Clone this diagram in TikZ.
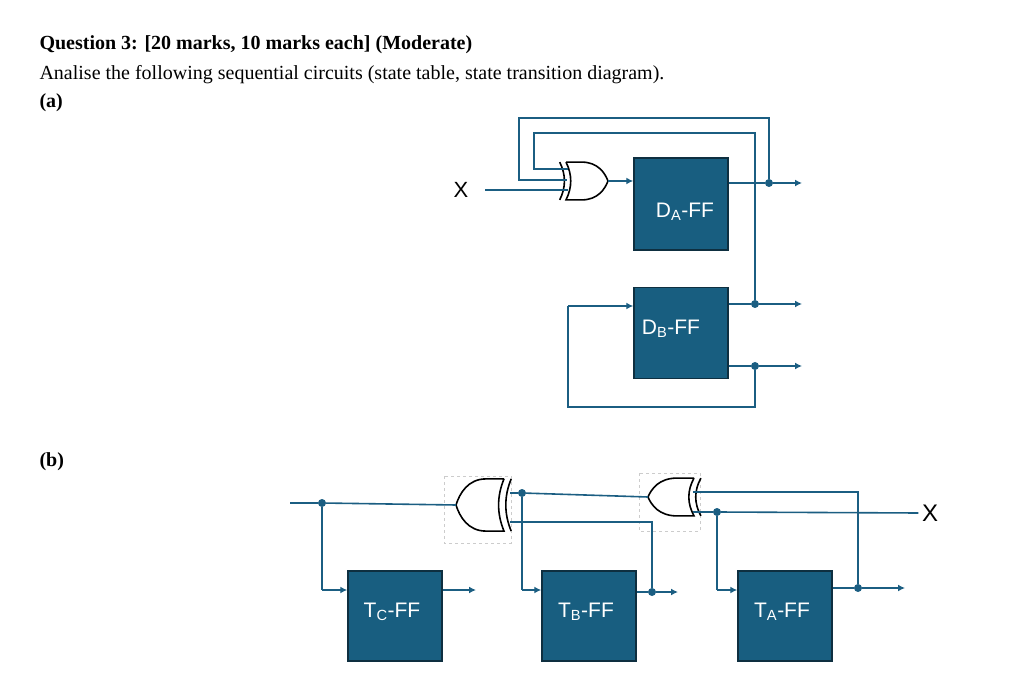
\documentclass[tikz,border=0pt]{standalone}
\usepackage{fontspec}
\setmainfont{Liberation Serif}
\newfontfamily\sansf{Liberation Sans}
\usetikzlibrary{arrows.meta}
\definecolor{wire}{HTML}{1B5E82}
\definecolor{boxf}{HTML}{185E80}
\definecolor{boxd}{HTML}{0E2F40}
\tikzset{
 w/.style={draw=wire,line width=1.6pt},
 wa/.style={w,-{Latex[length=7pt,width=7pt]}},
 ff/.style={draw=boxd,line width=1.5pt,fill=boxf,text=white,font=\sansf\fontsize{21}{21}\selectfont,minimum width=94pt,minimum height=90pt,inner sep=0pt},
 dotn/.style={circle,fill=wire,inner sep=0pt,minimum size=8pt},
 pics/xorg/.style={code={
   \draw[black,line width=1.6pt] (-40,-18) -- (-25,-18) .. controls (-10,-18) and (-3,-8) .. (0,0) .. controls (-3,8) and (-10,18) .. (-25,18) -- (-40,18) .. controls (-34,6) and (-34,-6) .. (-40,-18);
   \draw[black,line width=1.6pt] (-46,-18) .. controls (-40,-6) and (-40,6) .. (-46,18);
 }}
}
\begin{document}
\begin{tikzpicture}[x=1pt,y=-1pt]
\useasboundingbox (0,0) rectangle (1036,684);
\node[anchor=west,font=\bfseries\fontsize{20}{20}\selectfont] (t1) at (36,45) {Question 3: [20 marks, 10 marks each] (Moderate)};
\node[anchor=west,font=\fontsize{20}{20}\selectfont] (t2) at (36,75) {Analise the following sequential circuits (state table, state transition diagram).};
\node[anchor=west,font=\bfseries\fontsize{20}{20}\selectfont] (ta) at (36,103) {(a)};
\node[anchor=west,font=\bfseries\fontsize{20}{20}\selectfont] (tb) at (36,462) {(b)};

% ---- (a)
\node[ff,minimum height=92pt,text depth=0pt] (DA) at (681,204) {};
\node[font=\sansf\fontsize{21}{21}\selectfont,text=white] (DAl) at (685,212) {D\textsubscript{A}-FF};
\node[ff,minimum height=91pt] (DB) at (681,333) {};
\node[font=\sansf\fontsize{21}{21}\selectfont,text=white] (DBl) at (671,329) {D\textsubscript{B}-FF};
\node[font=\sansf\fontsize{22}{22}\selectfont] (X1) at (461,190) {X};
\coordinate (g1) at (608,181);
\pic[scale=1.05] at (g1) {xorg};
\draw[wa] (g1) -- (DA.west |- g1);
\node[dotn] (da1) at (769,183) {};
\node[dotn] (db1) at (755,304) {};
\node[dotn] (db2) at (755,366) {};
\coordinate (oa) at (802,183);
\coordinate (ob1) at (802,304);
\coordinate (ob2) at (802,366);
\draw[w] (DA.east |- da1) -- (da1);
\draw[wa] (da1) -- (oa);
\draw[w] (DB.east |- db1) -- (db1);
\draw[wa] (db1) -- (ob1);
\draw[w] (DB.east |- db2) -- (db2);
\draw[wa] (db2) -- (ob2);
\draw[w] (da1) -- (769,118) -- (519,118) -- (519,180) -- (567,180);
\draw[w] (db1) -- (755,133) -- (534,133) -- (534,169) -- (568,169);
\draw[w] (485,190) -- (568,190);
\draw[w] (db2) -- (755,407) -- (568,407) -- (568,306);
\draw[wa] (568,306) -- (DB.west |- 0,306);

% ---- (b)
\node[ff,minimum height=90pt] (TC) at (395,616) {};
\node[font=\sansf\fontsize{21}{21}\selectfont,text=white] (TCl) at (392,612) {T\textsubscript{C}-FF};
\node[ff,minimum height=90pt] (TB) at (589,616) {};
\node[font=\sansf\fontsize{21}{21}\selectfont,text=white] (TBl) at (586,612) {T\textsubscript{B}-FF};
\node[ff,minimum height=90pt] (TA) at (785,616) {};
\node[font=\sansf\fontsize{21}{21}\selectfont,text=white] (TAl) at (782,612) {T\textsubscript{A}-FF};
\draw[gray!40,dashed] (444,476) rectangle (511,543);
\draw[gray!40,dashed] (639,473) rectangle (700,531);
\coordinate (gx1) at (456,505);
\coordinate (gx2) at (648,497);
\pic[xscale=-1.2,yscale=1.45] at (gx1) {xorg};
\pic[xscale=-1.15,yscale=1.05] at (gx2) {xorg};
\node[dotn] (c0) at (322,503) {};
\node[dotn] (c1) at (522,493) {};
\node[dotn] (c2) at (652,592) {};
\node[dotn] (c3) at (717,512) {};
\node[dotn] (c4) at (858,588) {};
\node[font=\sansf\fontsize{24}{24}\selectfont] (X2) at (930,513) {X};
\draw[w] (290,503) -- (c0) -- (gx1);
\draw[w] (c0) -- (322,590);
\draw[wa] (322,590) -- (TC.west |- 0,590);
\draw[wa] (TC.east |- 0,590) -- (476,590);
\draw[w] (510,493) -- (c1) -- (gx2);
\draw[w] (c1) -- (522,590);
\draw[wa] (522,590) -- (TB.west |- 0,590);
\draw[w] (510,522) -- (652,522) -- (c2);
\draw[w] (TB.east |- c2) -- (c2);
\draw[wa] (c2) -- (678,592);
\draw[w] (693,492) -- (858,492) -- (c4);
\draw[w] (TA.east |- c4) -- (c4);
\draw[wa] (c4) -- (905,588);
\draw[w] (693,512) -- (c3) -- (X2.west);
\draw[w] (c3) -- (717,590);
\draw[wa] (717,590) -- (TA.west |- 0,590);
\end{tikzpicture}
\end{document}
